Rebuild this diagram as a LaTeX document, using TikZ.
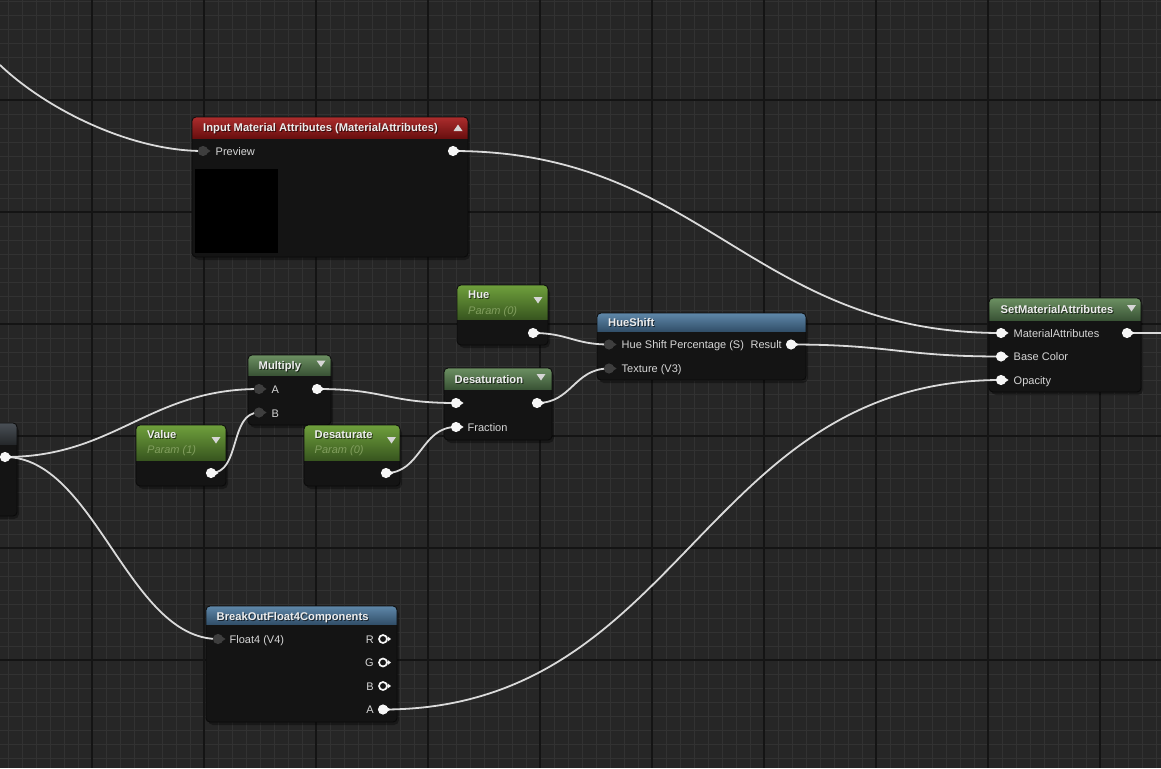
\documentclass[tikz,border=0pt]{standalone}
\usepackage{fontspec}
\setmainfont{Liberation Sans}
\usetikzlibrary{calc}
\definecolor{bg}{HTML}{262626}
\definecolor{gridminor}{HTML}{323232}
\definecolor{gridmajor}{HTML}{141414}
\definecolor{body}{HTML}{141414}
\definecolor{edgec}{HTML}{0A0A0A}
\definecolor{wirec}{HTML}{DADADA}
\definecolor{pinw}{HTML}{F6F6F6}
\definecolor{ping}{HTML}{3E3E3E}
\definecolor{titlec}{HTML}{EDEDED}
\definecolor{labelc}{HTML}{D6D6D6}
\definecolor{paramc}{HTML}{819E5E}
\definecolor{redT}{HTML}{AC2D2D}
\definecolor{redB}{HTML}{6A0F0F}
\definecolor{grnT}{HTML}{6FA03C}
\definecolor{grnB}{HTML}{38561F}
\definecolor{fgT}{HTML}{6C9062}
\definecolor{fgB}{HTML}{3A5436}
\definecolor{bluT}{HTML}{5F88AA}
\definecolor{bluB}{HTML}{32506A}
\definecolor{gryT}{HTML}{4A5056}
\definecolor{gryB}{HTML}{25282B}
\tikzset{
  nodebox/.style={rectangle, fill=body, inner sep=0pt, rounded corners=4pt},
  wire/.style={draw=wirec, line width=1.8pt},
  ttl/.style={text=titlec, font=\bfseries\fontsize{11.2}{13}\selectfont, inner sep=0pt, anchor=base west},
  ttlshadow/.style={ttl, text=black, opacity=0.6},
  lbl/.style={text=labelc, font=\fontsize{11}{13}\selectfont, inner sep=0pt, anchor=base west},
  lblr/.style={lbl, anchor=base east},
  prm/.style={text=paramc, font=\itshape\fontsize{11}{13}\selectfont, inner sep=0pt, anchor=base west},
  pfull/.pic={\fill[pinw] (0,0) circle[radius=5.1pt]; \fill[pinw] (3,-3) -- (7.6,0) -- (3,3) -- cycle;},
  pgray/.pic={\fill[ping] (0,0) circle[radius=5.1pt]; \fill[ping] (3,-3) -- (7.6,0) -- (3,3) -- cycle;},
  phollow/.pic={\draw[pinw, line width=1.7pt] (0,0) circle[radius=4pt]; \fill[pinw] (4.5,-2.7) -- (8,0) -- (4.5,2.7) -- cycle;},
  ddown/.pic={\fill[labelc] (-4.5,-3) -- (4.5,-3) -- (0,3.5) -- cycle;},
  dup/.pic={\fill[labelc] (-4.5,3) -- (4.5,3) -- (0,-3.5) -- cycle;},
}
% name, x, y, w, h, header height, top colour, bottom colour
\newcommand\uebox[8]{%
  \fill[black, opacity=0.35, rounded corners=5pt] (#2+2,#3+3) rectangle ++(#4,#5);
  \node[nodebox, minimum width=#4pt, minimum height=#5pt, anchor=north west] (#1) at (#2,#3) {};
  \begin{scope}
    \clip[rounded corners=4pt] (#2,#3) rectangle ++(#4,#5);
    \shade[top color=#7, bottom color=#8] (#2,#3) rectangle ++(#4,#6);
  \end{scope}
  \draw[edgec, line width=0.8pt, rounded corners=4pt] (#2,#3) rectangle ++(#4,#5);
}
% title with a soft shadow: name, x, y, text
\newcommand\uetitle[4]{%
  \node[ttlshadow] (#1s) at (#2+1,#3+1) {#4};
  \node[ttl] (#1) at (#2,#3) {#4};
}
\begin{document}
\begin{tikzpicture}[x=1pt,y=-1pt]
\useasboundingbox (0,0) rectangle (1161,768);
\clip (0,0) rectangle (1161,768);
\fill[bg] (0,0) rectangle (1161,768);
% grid
\foreach \gx in {8,22,...,1160} \draw[gridminor, line width=1pt] (\gx,0) -- (\gx,768);
\foreach \gy in {2,16,...,768} \draw[gridminor, line width=1pt] (0,\gy) -- (1161,\gy);
\foreach \gx in {92,204,...,1100} \draw[gridmajor, line width=1.1pt] (\gx,0) -- (\gx,768);
\foreach \gy in {100,212,...,660} \draw[gridmajor, line width=1.1pt] (0,\gy) -- (1161,\gy);

% node boxes
\uebox{lft}{-10}{423}{27}{93}{21}{gryT}{gryB}
\uebox{ima}{192}{117}{276}{140}{21}{redT}{redB}
\fill[black] (195,169) rectangle (278,253);
\uebox{hue}{457}{285}{91}{60}{34}{grnT}{grnB}
\uebox{hsh}{597}{313}{209}{67}{18}{bluT}{bluB}
\uebox{mul}{248}{355}{83}{70}{20}{fgT}{fgB}
\uebox{val}{136}{425}{90}{61}{35}{grnT}{grnB}
\uebox{dse}{304}{425}{96}{61}{35}{grnT}{grnB}
\uebox{dsn}{444}{368}{108}{72}{21}{fgT}{fgB}
\uebox{sma}{989}{298}{152}{94}{22}{fgT}{fgB}
\uebox{bo}{206}{606}{191}{116}{18}{bluT}{bluB}

% pin coordinates
\coordinate (lftOut) at (5,457);
\coordinate (imaIn) at (203,151);
\coordinate (imaOut) at (453,151);
\coordinate (hueOut) at (533,333);
\coordinate (hsIn) at (609,344.5);
\coordinate (hsTex) at (609,368.5);
\coordinate (hsOut) at (791,344.5);
\coordinate (mulA) at (259,389);
\coordinate (mulB) at (259,412.5);
\coordinate (mulOut) at (317,389);
\coordinate (valOut) at (211,473);
\coordinate (dseOut) at (386,473);
\coordinate (dsnIn) at (456,403);
\coordinate (dsnOut) at (537,403);
\coordinate (dsnFr) at (456,427);
\coordinate (smaMA) at (1001,333);
\coordinate (smaBC) at (1001,356.5);
\coordinate (smaOp) at (1001,380);
\coordinate (smaOut) at (1127,333);
\coordinate (boIn) at (218,639);
\coordinate (boR) at (383,639);
\coordinate (boG) at (383,662.5);
\coordinate (boB) at (383,686);
\coordinate (boA) at (383,709.5);
\coordinate (edgeTL) at (0,65);
\coordinate (edgeR) at (1161,333);

% wires
\draw[wire] (edgeTL) .. controls +(45,43) and +(-74,0) .. (imaIn);
\draw[wire] (imaOut) .. controls +(250,0) and +(-250,0) .. (smaMA);
\draw[wire] (smaOut) -- (edgeR);
\draw[wire] (hueOut) .. controls +(35,0) and +(-35,0) .. (hsIn);
\draw[wire] (hsOut) .. controls +(100,0) and +(-100,0) .. (smaBC);
\draw[wire] (lftOut) .. controls +(110,0) and +(-110,0) .. (mulA);
\draw[wire] (lftOut) .. controls +(90,0) and +(-90,0) .. (boIn);
\draw[wire] (valOut) .. controls +(30,0) and +(-30,0) .. (mulB);
\draw[wire] (mulOut) .. controls +(70,0) and +(-70,0) .. (dsnIn);
\draw[wire] (dseOut) .. controls +(35,0) and +(-35,0) .. (dsnFr);
\draw[wire] (dsnOut) .. controls +(35,0) and +(-35,0) .. (hsTex);
\draw[wire] (boA) .. controls +(300,0) and +(-300,0) .. (smaOp);

% pins
\pic at (lftOut) {pfull};
\pic at (imaIn) {pgray};
\pic at (imaOut) {pfull};
\pic at (hueOut) {pfull};
\pic at (hsIn) {pgray};
\pic at (hsTex) {pgray};
\pic at (hsOut) {pfull};
\pic at (mulA) {pgray};
\pic at (mulB) {pgray};
\pic at (mulOut) {pfull};
\pic at (valOut) {pfull};
\pic at (dseOut) {pfull};
\pic at (dsnIn) {pfull};
\pic at (dsnOut) {pfull};
\pic at (dsnFr) {pfull};
\pic at (smaMA) {pfull};
\pic at (smaBC) {pfull};
\pic at (smaOp) {pfull};
\pic at (smaOut) {pfull};
\pic at (boIn) {pgray};
\pic at (boR) {phollow};
\pic at (boG) {phollow};
\pic at (boB) {phollow};
\pic at (boA) {pfull};

% dropdown arrows
\pic at (458,128) {dup};
\pic at (538,300) {ddown};
\pic at (321,363.5) {ddown};
\pic at (216,440) {ddown};
\pic at (391.5,440) {ddown};
\pic at (541,377) {ddown};
\pic at (1131.5,308) {ddown};

% texts
\uetitle{tIma}{203}{131.5}{Input Material Attributes (MaterialAttributes)}
\node[lbl] (lPrev) at (215.5,155.5) {Preview};
\uetitle{tHue}{468}{298.5}{Hue}
\node[prm] (pHue) at (468,314) {Param (0)};
\uetitle{tHs}{608}{326.5}{HueShift}
\node[lbl] (lHsp) at (621.5,348.5) {Hue Shift Percentage (S)};
\node[lblr] (lRes) at (782,348.5) {Result};
\node[lbl] (lTex) at (621.5,372.5) {Texture (V3)};
\uetitle{tMul}{258.5}{369}{Multiply}
\node[lbl] (lA) at (271.5,393.5) {A};
\node[lbl] (lB) at (271.5,417) {B};
\uetitle{tVal}{147}{438.5}{Value}
\node[prm] (pVal) at (147,453.5) {Param (1)};
\uetitle{tDse}{314.5}{438.5}{Desaturate}
\node[prm] (pDse) at (314.5,453.5) {Param (0)};
\uetitle{tDsn}{454.5}{383}{Desaturation}
\node[lbl] (lFr) at (467.5,431) {Fraction};
\uetitle{tSma}{1000.5}{313.5}{SetMaterialAttributes}
\node[lbl] (lMa) at (1013.5,337) {MaterialAttributes};
\node[lbl] (lBc) at (1013.5,360.5) {Base Color};
\node[lbl] (lOp) at (1013.5,384) {Opacity};
\uetitle{tBo}{216.5}{620}{BreakOutFloat4Components}
\node[lbl] (lF4) at (229.5,643) {Float4 (V4)};
\node[lblr] (lR) at (374,643) {R};
\node[lblr] (lG) at (374,666.5) {G};
\node[lblr] (lBB) at (374,690) {B};
\node[lblr] (lAA) at (374,713.5) {A};
\end{tikzpicture}
\end{document}
